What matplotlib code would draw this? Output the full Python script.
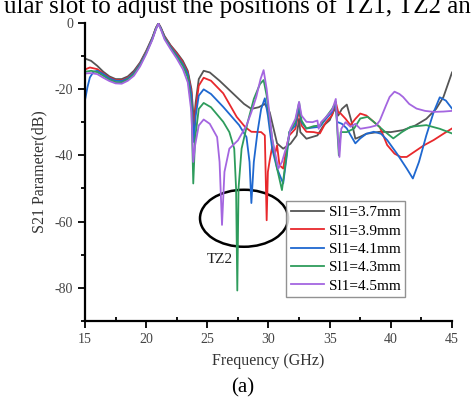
import numpy as np
import matplotlib
matplotlib.use("Agg")
import matplotlib.pyplot as plt
from matplotlib.patches import Ellipse
from matplotlib.ticker import MultipleLocator

plt.rcParams["font.family"] = ["Liberation Serif", "DejaVu Serif"]

# S21 traces (GHz, dB)
f_37 = [15, 15.5, 16, 16.5, 17, 17.5, 18, 18.5, 19, 19.5, 20, 20.5, 20.8, 21, 21.2, 21.5, 22, 22.5, 23,
        23.4, 23.7, 23.9, 24.05, 24.3, 24.7, 25.2, 26, 27, 28, 28.6, 29.2, 29.7, 30.1, 30.7, 31.2, 31.8,
        32.3, 32.5, 32.6, 33.1, 34, 34.5, 35, 35.4, 35.7, 36.0, 36.4, 36.8, 37.1, 37.5, 38, 39.1, 40, 41,
        42, 42.9, 43.7, 44.3, 45]
s_37 = [-10.8, -11.5, -13, -14.8, -16.2, -17, -17, -16.2, -14.5, -12, -8.5, -4.5, -1.5, -0.2, -1.5, -4,
        -6.8, -9, -11.5, -14.5, -20, -30, -24, -17, -14.5, -15, -17.5, -21, -24.5, -26, -25.5, -24.5,
        -27, -36.4, -38, -36.5, -34, -29, -33, -35, -34, -31, -29.4, -26, -28, -26, -24.7, -30, -35,
        -34.4, -33.5, -32.9, -33, -32.4, -31, -29, -26, -22.4, -15]

f_39 = [15, 15.4, 16, 16.5, 17, 17.5, 18, 18.5, 19, 19.5, 20, 20.5, 20.8, 21, 21.2, 21.5, 22, 22.5, 23,
        23.4, 23.7, 23.9, 24.05, 24.3, 24.7, 25.3, 26.3, 27.4, 28.1, 28.6, 29.4, 29.7, 29.85, 29.95,
        30.1, 30.3, 30.5, 30.7, 30.9, 31.2, 31.5, 31.7, 32.2, 32.5, 32.7, 33.1, 33.7, 34.2, 34.7, 35.2,
        35.5, 35.7, 35.9, 36.3, 36.7, 37.1, 37.5, 38, 38.6, 39.1, 39.7, 40.3, 40.8, 41.3, 41.9, 42.7,
        43.5, 44.3, 45]
s_39 = [-14.1, -13.5, -14, -15.3, -16.6, -17.3, -17.4, -16.6, -15, -12.3, -8.8, -4.7, -1.6, -0.2, -1.5,
        -4.2, -7, -9.3, -12, -15, -21, -33, -26, -19, -16.6, -17.5, -21.3, -28.4, -31.5, -32.9, -33,
        -34, -59.6, -45, -41.5, -37.5, -40, -37, -43, -44, -37, -34, -32, -26.4, -31, -32.9, -33,
        -33.4, -30, -27.9, -24, -27, -27.4, -29, -30.9, -29, -27.4, -28, -29.9, -31.5, -36.9, -39.5,
        -40.5, -40.5, -39, -37, -35.4, -33.5, -31.9]

f_41 = [15, 15.2, 15.4, 15.7, 16, 16.5, 17, 17.5, 18, 18.5, 19, 19.5, 20, 20.5, 20.8, 21, 21.2, 21.5,
        22, 22.5, 23, 23.4, 23.7, 23.9, 24.05, 24.3, 24.7, 25.3, 26.3, 27.6, 28.2, 28.45, 28.6, 28.8,
        29.1, 29.4, 29.7, 29.95, 30.3, 30.7, 31.2, 31.5, 31.7, 32.2, 32.5, 32.7, 33.1, 33.7, 34.2,
        34.7, 35.2, 35.5, 35.6, 36, 36.4, 36.8, 37.1, 37.5, 38, 38.6, 39.2, 39.7, 40.5, 41.3, 41.8,
        42.3, 42.9, 43.5, 44, 44.5, 45]
s_41 = [-23.4, -19.5, -16.5, -14.8, -14.5, -15.5, -16.8, -17.5, -17.6, -16.8, -15.2, -12.5, -9, -4.8,
        -1.7, -0.3, -1.6, -4.4, -7.3, -9.8, -12.5, -15.5, -22, -36, -28, -22, -20.1, -21.5, -25.4,
        -30.9, -34.5, -42, -54.4, -42, -33, -26, -22.8, -28, -38, -44, -48.5, -40, -33, -31, -25.4,
        -30, -31.9, -31.6, -31.4, -29, -26.9, -24, -29.9, -30.5, -31.9, -34.5, -36.4, -34.9, -33.5,
        -32.9, -33.5, -35.4, -39.5, -44, -47, -42, -34, -27, -22.5, -23.5, -25.9]

f_43 = [15, 15.5, 16, 16.5, 17, 17.5, 18, 18.5, 19, 19.5, 20, 20.5, 20.8, 21, 21.2, 21.5, 22, 22.5, 23,
        23.4, 23.7, 23.85, 24.0, 24.3, 24.7, 25.3, 26.3, 26.8, 27.2, 27.35, 27.45, 27.55, 27.8, 28.3,
        28.8, 29.3, 29.6, 29.85, 30.3, 30.7, 31.1, 31.4, 31.7, 32.2, 32.5, 32.7, 33.1, 33.7, 34.2,
        34.7, 35.2, 35.5, 35.65, 35.75, 35.9, 36.4, 37, 37.5, 38.1, 38.6, 39.4, 40.2, 40.9, 41.6,
        42.9, 44, 45]
s_43 = [-14.8, -14.5, -14.9, -16, -17.2, -17.9, -18, -17.1, -15.5, -12.8, -9.2, -5, -1.8, -0.3, -1.8,
        -4.6, -7.6, -10.2, -13, -16.5, -25, -48.5, -35, -26, -24.2, -25.5, -29.9, -33, -38, -50,
        -80.8, -50, -38, -30, -23, -18.5, -17.3, -22, -35, -44, -50.5, -42, -33, -30, -24, -29.5,
        -31.9, -31.2, -31, -28.5, -26, -24, -34, -40, -33, -33, -31.9, -28.9, -28.4, -29.9, -32.5,
        -34.9, -33, -31.4, -30.9, -32, -33.4]

f_45 = [15, 15.5, 16, 16.5, 17, 17.5, 18, 18.5, 19, 19.5, 20, 20.5, 20.8, 21, 21.2, 21.5, 22, 22.5, 23,
        23.4, 23.7, 23.85, 24.0, 24.3, 24.7, 25.2, 25.8, 26.0, 26.2, 26.4, 26.8, 27.5, 28.2, 28.6,
        29.0, 29.35, 29.6, 29.85, 30.3, 30.8, 31.1, 31.5, 31.8, 32.2, 32.5, 32.7, 33.1, 33.6, 34,
        34.1, 34.3, 34.7, 35.2, 35.5, 35.65, 35.8, 35.95, 36.3, 36.7, 37.1, 37.5, 38.3, 38.8, 39.1,
        39.6, 39.9, 40.3, 40.7, 41, 41.5, 42.1, 42.8, 43.5, 44.3, 45]
s_45 = [-15.3, -15.2, -15.5, -16.6, -17.6, -18.3, -18.4, -17.5, -16, -13.2, -9.5, -5.2, -2, -0.3, -2,
        -5, -8, -10.8, -14, -18, -27, -42, -37, -31, -29.2, -30.5, -34.5, -42, -61, -45, -38, -35.5,
        -31, -27, -22.4, -17, -14.3, -20, -35, -44, -42, -37, -32, -29, -23.9, -28, -29.9, -30,
        -29.5, -32, -30, -28.5, -26.4, -23, -33, -40.5, -32, -30, -31.4, -30.5, -32, -31.5, -31,
        -29.5, -25, -22.4, -20.8, -21.5, -22.4, -24.5, -25.9, -26.6, -26.9, -26.8, -26.6]

labels = ["Sl1=3.7mm", "Sl1=3.9mm", "Sl1=4.1mm", "Sl1=4.3mm", "Sl1=4.5mm"]
colors = ["#555555", "#e8282c", "#1f68d0", "#2e9c5c", "#a466e0"]
traces = [(f_37, s_37), (f_39, s_39), (f_41, s_41), (f_43, s_43), (f_45, s_45)]

fig = plt.figure(figsize=(4.74, 3.99), dpi=100)
ax = fig.add_axes([0.1793, 0.1955, 0.7743, 0.7475])

for (f, s), c, lab in zip(traces, colors, labels):
    ax.plot(f, s, color=c, lw=1.3, label=lab)

ax.add_patch(Ellipse((28.0, -59.0), 7.2, 17.2, fill=False, edgecolor="black", lw=1.8))
ax.text(26.0, -71.5, "TZ2", fontsize=11, ha="center", va="center", color="#222222")

ax.set_xlim(15, 45)
ax.set_ylim(-90, 0)
ax.xaxis.set_major_locator(MultipleLocator(5))
ax.xaxis.set_minor_locator(MultipleLocator(2.5))
ax.yaxis.set_major_locator(MultipleLocator(20))
ax.yaxis.set_minor_locator(MultipleLocator(10))
ax.set_yticks([0, -20, -40, -60, -80])
ax.set_yticklabels(["0", "-20", "-40", "-60", "-80"])
ax.tick_params(which="major", direction="out", length=5, width=1.3, labelsize=10, labelcolor="#444444")
ax.tick_params(axis="x", which="minor", direction="in", length=3, width=1.3)
ax.tick_params(axis="y", which="minor", direction="out", length=3, width=1.3)
for side in ["top", "right"]:
    ax.spines[side].set_visible(False)
for side in ["left", "bottom"]:
    ax.spines[side].set_linewidth(1.6)

ax.set_xlabel("Frequency (GHz)", fontsize=11.5, color="#333333", labelpad=5)
ax.set_ylabel("S21 Parameter(dB)", fontsize=11.5, color="#333333", labelpad=5)

leg = ax.legend(loc="lower right", bbox_to_anchor=(0.872, 0.08), fontsize=11, frameon=True,
                fancybox=False, edgecolor="#777777", handlelength=2.2, handletextpad=0.3,
                borderpad=0.3, labelspacing=0.3, borderaxespad=0)
leg.get_frame().set_linewidth(1.0)

fig.text(0.513, 0.029, "(a)", fontsize=15, ha="center", va="center")
fig.text(0.5, 0.968, "ular slot to adjust the positions of TZ1, TZ2 an", fontsize=18,
         ha="center", va="baseline")

fig.savefig("out.png", dpi=100)
